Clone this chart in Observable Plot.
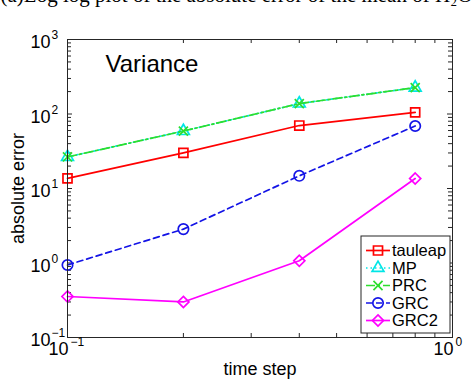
<!DOCTYPE html>
<html><head><meta charset="utf-8">
<script src="https://cdn.jsdelivr.net/npm/d3@7"></script>
<script src="https://cdn.jsdelivr.net/npm/@observablehq/plot@0.6"></script>
<style>body{margin:0;background:#fff;overflow:hidden}#chart{width:474px;height:382px}</style>
</head><body><div id="chart"></div>
<script>
// ---- data ----
const timeSteps = [0.1, 0.2, 0.4, 0.8];
const tauleap = [13.7, 30, 70, 105];
const mp = [26.5, 59, 138, 226];
const prc = [26.5, 59, 138, 226];
const grc = [0.94, 2.85, 14.8, 69];
const grc2 = [0.355, 0.30, 1.07, 13.6];
const seriesNames = ["tauleap", "MP", "PRC", "GRC", "GRC2"];
const seriesValues = [tauleap, mp, prc, grc, grc2];
const xTicks = [0.1, 1];
const xExps = ["\u22121", "0"];
const yTicks = [0.1, 1, 10, 100, 1000];
const yExps = ["\u22121", "0", "1", "2", "3"];
const titleText = "(a)Log log plot of the absolute error of the mean of H\u2082O";
const annotation = "Variance";
const xLabel = "time step";
const yLabel = "absolute error";

// ---- styles ----
const W = 474, H = 382;
const mL = 67, mR = 22, mT = 39, mB = 45;
const pw = W - mL - mR, ph = H - mT - mB;
const sty = {
  tauleap: {color: "#ff0000", dash: null, symbol: "square", r: 5.1},
  MP: {color: "#00e6e6", dash: "1.5,3", symbol: "triangle", r: 4.4},
  PRC: {color: "#2ede2e", dash: "9,3,2,3", symbol: "times", r: 4.2},
  GRC: {color: "#1414e6", dash: "6,4", symbol: "circle", r: 5.2},
  GRC2: {color: "#ff00ff", dash: null, symbol: "diamond2", r: 5.0}
};
const rows = seriesNames.flatMap((s, k) => timeSteps.map((t, i) => ({series: s, t, v: seriesValues[k][i]})));

const minors = (lo, hi) => {
  const out = [];
  for (let e = lo; e < hi; e++) for (let m = 2; m <= 9; m++) out.push(m * Math.pow(10, e));
  return out;
};
const xMinor = minors(-1, 0), yMinor = minors(-1, 3);
const tickLen = 5, minorLen = 4, axisCol = "#262626";
const font = "Liberation Sans, Arial, Helvetica, sans-serif";

const marks = [];
// ticks (inward, all four sides)
marks.push(Plot.tickY(yTicks, {y: d => d, insetRight: pw - tickLen, stroke: axisCol}));
marks.push(Plot.tickY(yTicks, {y: d => d, insetLeft: pw - tickLen, stroke: axisCol}));
marks.push(Plot.tickY(yMinor, {y: d => d, insetRight: pw - minorLen, stroke: axisCol}));
marks.push(Plot.tickY(yMinor, {y: d => d, insetLeft: pw - minorLen, stroke: axisCol}));
marks.push(Plot.tickX(xMinor, {x: d => d, insetTop: ph - minorLen, stroke: axisCol}));
marks.push(Plot.tickX(xMinor, {x: d => d, insetBottom: ph - minorLen, stroke: axisCol}));

for (const s of seriesNames) {
  const d = rows.filter(r => r.series === s);
  const st = sty[s];
  marks.push(Plot.line(d, {x: "t", y: "v", stroke: st.color, strokeWidth: 1.7, strokeDasharray: st.dash}));
  marks.push(Plot.dot(d, {x: "t", y: "v", symbol: () => st.symbol, r: st.r, stroke: st.color, fill: "none", strokeWidth: 1.7}));
}
marks.push(Plot.frame({stroke: axisCol, strokeWidth: 1}));

// tick labels
marks.push(Plot.text(yTicks, {y: d => d, text: () => "10", frameAnchor: "left", textAnchor: "end", dx: -17, dy: 3, fontSize: 18, fill: "#000"}));
marks.push(Plot.text(yTicks, {y: d => d, text: (d, i) => yExps[i], frameAnchor: "left", textAnchor: "start", dx: -16, dy: -4, fontSize: 12, fill: "#000"}));
marks.push(Plot.text(xTicks, {x: d => d, text: () => "10", frameAnchor: "bottom", textAnchor: "end", dx: 1, dy: 17, fontSize: 18, fill: "#000"}));
marks.push(Plot.text(xTicks, {x: d => d, text: (d, i) => xExps[i], frameAnchor: "bottom", textAnchor: "start", dx: 3, dy: 8, fontSize: 12, fill: "#000"}));

// axis labels, annotation, title
marks.push(Plot.text([xLabel], {text: d => d, frameAnchor: "bottom", textAnchor: "middle", dy: 37, fontSize: 18, fill: "#000"}));
marks.push(Plot.text([yLabel], {text: d => d, frameAnchor: "left", textAnchor: "middle", rotate: -90, dx: -49, fontSize: 18, fill: "#000"}));
marks.push(Plot.text([annotation], {text: d => d, frameAnchor: "top-left", textAnchor: "start", lineAnchor: "bottom", dx: 38, dy: 32, fontSize: 24, fill: "#000"}));
marks.push(Plot.text([titleText], {text: d => d, frameAnchor: "top-left", textAnchor: "start", lineAnchor: "bottom", dx: -mL, dy: -38, fontSize: 21, fill: "#000", fontFamily: "Liberation Serif, serif"}));

const svg = Plot.plot({
  width: W, height: H,
  marginLeft: mL, marginRight: mR, marginTop: mT, marginBottom: mB,
  style: {fontFamily: font, background: "#fff", overflow: "hidden"},
  x: {type: "log", domain: [0.1, 1], axis: null},
  y: {type: "log", domain: [0.1, 1000], axis: null},
  marks
});
document.getElementById("chart").appendChild(svg);

// legend
const lg = d3.select(svg).append("g").attr("font-family", font).attr("font-size", 16.5).attr("text-anchor", "start");
const bx = 361, by = 236, bw = 89, bh = 97;
lg.append("rect").attr("x", bx).attr("y", by).attr("width", bw).attr("height", bh)
  .attr("fill", "#fff").attr("stroke", axisCol).attr("stroke-width", 1);
const symMap = {square: d3.symbolSquare, triangle: d3.symbolTriangle, times: d3.symbolTimes, circle: d3.symbolCircle, diamond2: d3.symbolDiamond2};
seriesNames.forEach((s, i) => {
  const st = sty[s];
  const y = by + 14.5 + i * 17.5;
  lg.append("line").attr("x1", bx + 5).attr("x2", bx + 29).attr("y1", y).attr("y2", y)
    .attr("stroke", st.color).attr("stroke-width", 1.7).attr("stroke-dasharray", st.dash);
  lg.append("path").attr("d", d3.symbol(symMap[st.symbol], st.r * st.r * Math.PI)())
    .attr("transform", `translate(${bx + 17},${y})`).attr("fill", "none").attr("stroke", st.color).attr("stroke-width", 1.7);
  lg.append("text").attr("x", bx + 31).attr("y", y).attr("dy", "0.35em").attr("fill", "#000").text(s);
});
</script></body></html>
